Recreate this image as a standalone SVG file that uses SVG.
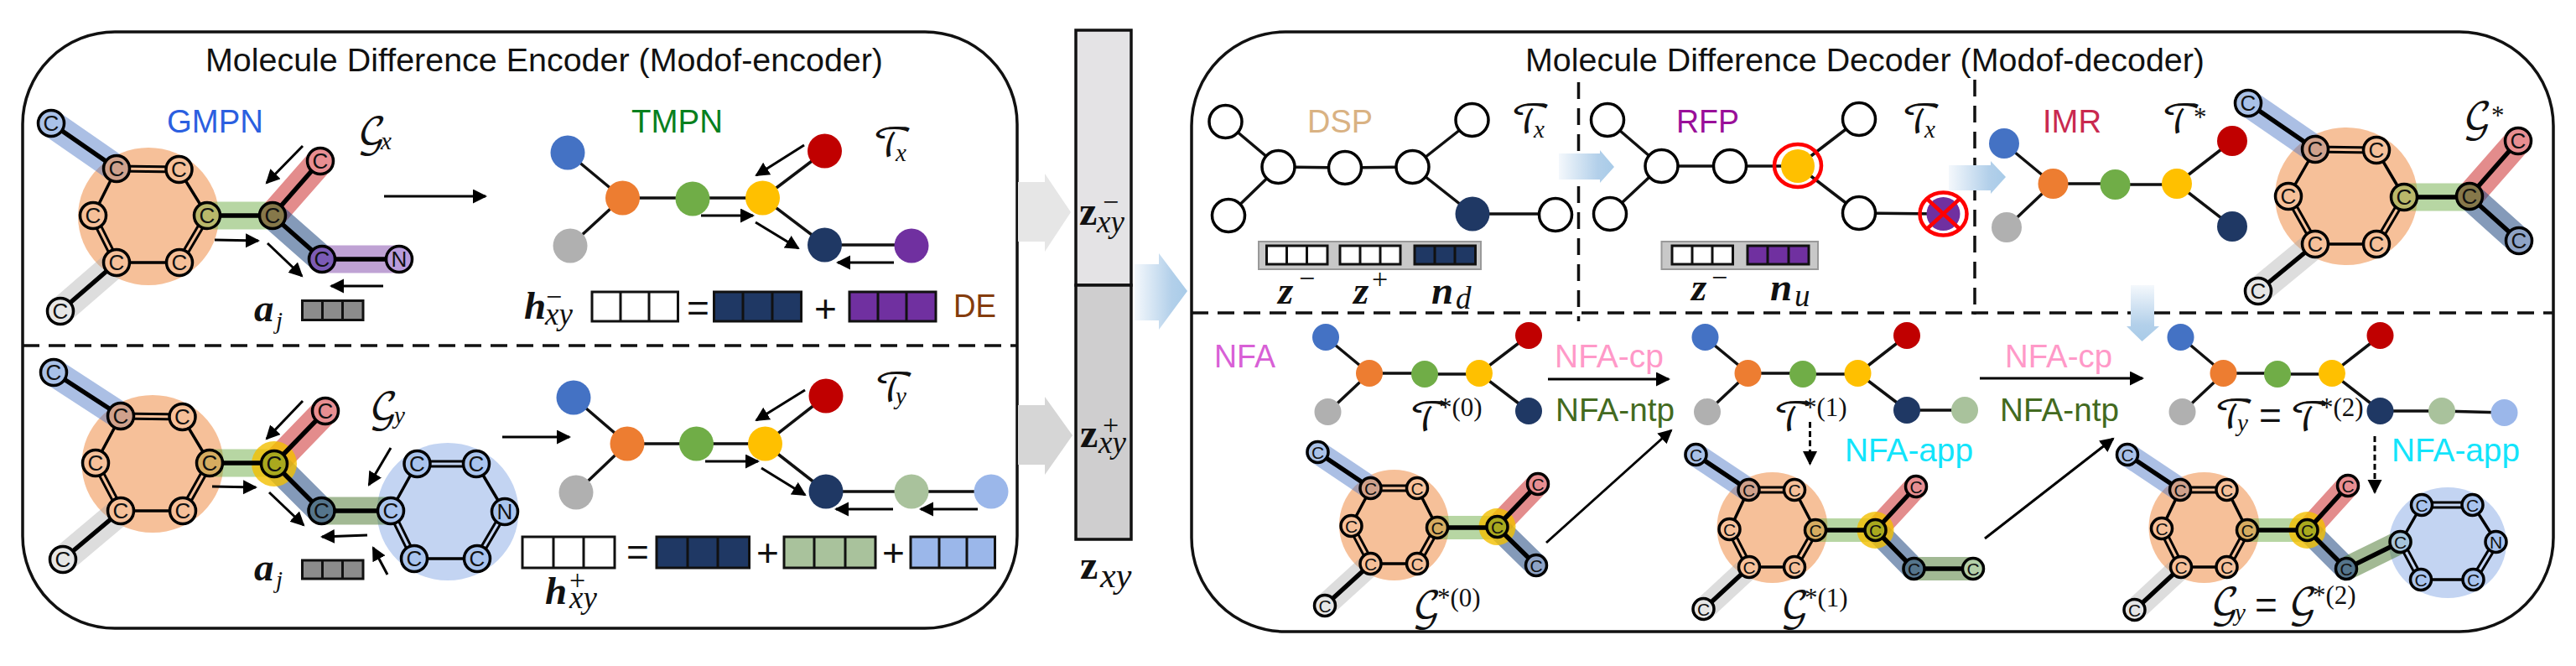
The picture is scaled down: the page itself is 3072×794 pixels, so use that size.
<svg xmlns="http://www.w3.org/2000/svg" width="3072" height="794" viewBox="0 0 3072 794">
<style>
text{font-family:"Liberation Serif","DejaVu Serif",serif;fill:#111}
.t{font-family:"Liberation Sans",Arial,sans-serif;font-size:38px}
.l{font-family:"Liberation Sans",Arial,sans-serif;font-size:39px}
.box{fill:#fff;stroke:#111;stroke-width:3.5}
.dash{fill:none;stroke:#111;stroke-width:3.5;stroke-dasharray:20 11}
.bnd{fill:none;stroke-linecap:round;stroke-width:33}
.bs{stroke-width:28}
.bblue{stroke:#4472c4;stroke-opacity:.45}.bgrey{stroke:#a6a6a6;stroke-opacity:.38}.bgreen{stroke:#70ad47;stroke-opacity:.5}.bred{stroke:#c00000;stroke-opacity:.45}.bnavy{stroke:#1f4780;stroke-opacity:.55}.bpurp{stroke:#7030a0;stroke-opacity:.45}.bdgreen{stroke:#557f3c;stroke-opacity:.55}
.eo{fill:#f6c099}.eb{fill:#c3d4f2}.halo{fill:#f2bf00;fill-opacity:.8}
.bd{stroke:#000;stroke-width:3.5;fill:none}.bt{stroke:#000;stroke-width:5.5;fill:none}
.d1{stroke:#000;stroke-width:9}.d2{stroke:#f6c099;stroke-width:3}.d3{stroke:#c3d4f2;stroke-width:3}
.e{stroke:#111;stroke-width:3.5;fill:none}
.ar{stroke:#000;stroke-width:3;fill:none;marker-end:url(#ah)}
.ad{stroke:#000;stroke-width:3;fill:none;stroke-dasharray:7 4;marker-end:url(#ah)}
.a{stroke:#000;stroke-width:3.5}
.ao{fill:#f6c099}.aob{fill:#cfa18c}.aog{fill:#b9b86a}.aoy{fill:#d6ac60}.am{fill:#86784a}.ay{fill:#a9a91e}.ab{fill:#a9c1e8}.ar2{fill:#e88e91}.ag{fill:#e6e6e6}.an{fill:#8ea3c6}.ap{fill:#7b5bb6}.apl{fill:#b99cdc}.at{fill:#55758c}.abl{fill:#a9c4ee}.abt{fill:#a6c5da}.asg{fill:#b3cfa8}
.c{font-family:"Liberation Sans",Arial,sans-serif;font-size:26px;text-anchor:middle;fill:#111}
.cs{font-family:"Liberation Sans",Arial,sans-serif;font-size:21px;text-anchor:middle;fill:#111}
.n{stroke:none}.w{fill:#fff;stroke:#000;stroke-width:3.5}
.f1{fill:#4472c4}.f2{fill:#ed7d31}.f3{fill:#b0b0b0}.f4{fill:#70ad47}.f5{fill:#ffc000}.f6{fill:#c00000}.f7{fill:#1f3864}.f8{fill:#7030a0}.f9{fill:#a9c29c}.f10{fill:#9bb7ea}
.v{stroke:#111;stroke-width:3}.vl{fill:none;stroke:#111;stroke-width:3}
.mb{font-weight:bold;font-style:italic;font-size:47px}
.mu{font-weight:bold;font-size:48px}
.mi{font-style:italic;font-size:37px}
.ms{font-size:34px}
.scr{font-family:"DejaVu Math TeX Gyre","DejaVu Serif",serif;font-size:46px}
.sup{font-size:31px}
.ssub{font-style:italic;font-size:29px}
.eq{font-family:"Liberation Sans",Arial,sans-serif;font-size:46px}
</style>
<defs>
<marker id="ah" markerUnits="userSpaceOnUse" markerWidth="19" markerHeight="19" refX="15" refY="8.5" orient="auto"><path d="M0 0L17 8.5L0 17Z" fill="#000"/></marker>
<linearGradient id="fh" x1="0" x2="1" y1="0" y2="0"><stop offset="0" stop-color="#f4f8fc"/><stop offset=".7" stop-color="#b3d0ea"/><stop offset="1" stop-color="#a8cbe8"/></linearGradient>
<linearGradient id="fv" x1="0" x2="0" y1="0" y2="1"><stop offset="0" stop-color="#f4f8fc"/><stop offset=".7" stop-color="#b3d0ea"/><stop offset="1" stop-color="#a8cbe8"/></linearGradient>
</defs>
<rect width="3072" height="794" fill="#fff"/>

<g id="panels">
<rect class="box" x="27" y="38" width="1186" height="711" rx="110" ry="110"/>
<rect class="box" x="1421" y="38" width="1624" height="715" rx="112" ry="112"/>
<rect id="zbar-top" x="1283" y="36" width="66" height="304" fill="#e4e3e5" stroke="#111" stroke-width="3.5"/>
<rect id="zbar-bottom" x="1283" y="340" width="66" height="303" fill="#cfcecf" stroke="#111" stroke-width="3.5"/>
<path class="dash" d="M27 412H1212"/>
<path class="dash" d="M1421 373H3045"/>
<path class="dash" d="M1882.500 98V383"/>
<path class="dash" d="M2355 95V375"/>
</g>

<g id="flow-arrows">
<polygon fill="#e6e6e6" points="1214,217 1246,217 1246,207 1277,253 1246,300 1246,288 1214,288"/>
<polygon fill="#d6d6d6" points="1214,483 1246,483 1246,473 1279,519 1246,566 1246,554 1214,554"/>
<polygon fill="url(#fh)" points="1353,315 1382,315 1382,302 1416,347 1382,393 1382,382 1353,382"/>
<polygon fill="url(#fh)" points="1859,183 1908,183 1908,179 1925,199 1908,218 1908,214 1859,214"/>
<polygon fill="url(#fh)" points="2324,197 2374,197 2374,192 2392,211 2374,231 2374,227 2324,227"/>
<polygon fill="url(#fv)" points="2541,340 2569,340 2569,389 2575,389 2554.500,407 2536,389 2541,389"/>
</g>

<g id="highlights">
<ellipse class="eo" cx="177" cy="258" rx="84" ry="82"/>
<g class="bnd"><path class="bblue" d="M61 147L139 201"/><path class="bgrey" d="M72 371L139 313"/><path class="bgreen" d="M247 257H325"/><path class="bred" d="M325 257L382 192"/><path class="bnavy" d="M325 257L384 309"/><path class="bpurp" d="M384 309H476"/></g>
<ellipse class="eo" cx="182" cy="553" rx="84.500" ry="82"/>
<ellipse class="eb" cx="534" cy="610" rx="84.500" ry="82"/>
<g class="bnd"><path class="bblue" d="M64 444L144 496"/><path class="bgrey" d="M75 667L144 609"/><path class="bgreen" d="M250 552H327"/><path class="bred" d="M327 553L388 490"/><path class="bnavy" d="M327 553L383 609"/><path class="bdgreen" d="M383 609H466"/></g>
<circle class="halo" cx="327" cy="553" r="27"/>
<ellipse class="eo" cx="2798" cy="234" rx="85" ry="82"/>
<g class="bnd"><path class="bblue" d="M2681 123L2761 178"/><path class="bgrey" d="M2693 347L2761 291"/><path class="bgreen" d="M2867 235H2945"/><path class="bred" d="M2945 234L3003 168"/><path class="bnavy" d="M2945 234L3004 287"/></g>
<ellipse class="eo" cx="1662.500" cy="626" rx="65.500" ry="66"/>
<g class="bnd bs"><path class="bblue" d="M1571 539L1635 582"/><path class="bgrey" d="M1580 722L1635 672"/><path class="bgreen" d="M1714 629H1785"/><path class="bred" d="M1785 628L1834 577"/><path class="bnavy" d="M1785 628L1832 674"/></g>
<circle class="halo" cx="1785.500" cy="628" r="22"/>
<ellipse class="eo" cx="2113.500" cy="629" rx="66" ry="66"/>
<g class="bnd bs"><path class="bblue" d="M2022 542L2085 584"/><path class="bgrey" d="M2032 726L2086 676"/><path class="bgreen" d="M2165 632H2237"/><path class="bred" d="M2237 632L2285 580"/><path class="bnavy" d="M2237 632L2282 678"/><path class="bdgreen" d="M2282 678H2353"/></g>
<circle class="halo" cx="2236.500" cy="632" r="22"/>
<ellipse class="eo" cx="2628.500" cy="629" rx="66" ry="66"/>
<ellipse class="eb" cx="2919" cy="647" rx="70" ry="66"/>
<g class="bnd bs"><path class="bblue" d="M2537 542L2600 584"/><path class="bgrey" d="M2546 727L2601 676"/><path class="bgreen" d="M2680 632H2752"/><path class="bred" d="M2752 632L2800 579"/><path class="bnavy" d="M2752 632L2798 678"/><path class="bdgreen" d="M2798 678L2863 646"/></g>
<circle class="halo" cx="2751.500" cy="632" r="22"/>
</g>

<g id="connectors">
<g id="gx-bonds">
<path class="bt" d="M61 147L139 201M72 371L139 313M247 257H325M325 257L382 192M325 257L384 309M384 309H476"/>
<path class="bd" d="M213 202L247 257M214 313H139M111 257L139 201"/>
<path class="d1" d="M139 201L213 202M247 257L214 313M139 313L111 257"/>
<path class="d2" d="M139 201L213 202M247 257L214 313M139 313L111 257"/>
<path class="ar" d="M361 174L318 218"/><path class="ar" d="M256 286L308 287"/><path class="ar" d="M319 290L360 329"/><path class="ar" d="M457 341H395"/>
</g>
<path class="ar" d="M458 234H579"/>
<g id="tx-edges">
<path class="e" d="M677 182L742 236M680 293L742 236M742 236H826M826 236H910M910 236L984 180M910 236L984 292M984 292H1087"/>
<path class="ar" d="M959 173L902 209"/><path class="ar" d="M836 257H898"/><path class="ar" d="M901 265L952 296"/><path class="ar" d="M1066 313H999"/>
</g>
<g id="gy-bonds">
<path class="bt" d="M64 444L144 496M75 667L144 609M250 552H327M327 553L388 490M327 553L383 609M383 609H466"/>
<path class="bd" d="M217 497L250 552M218 609H144M114 552L144 496M466 609L497 553M568 553L602 610M569 666H494"/>
<path class="d1" d="M144 496L217 497M250 552L218 609M144 609L114 552M497 553H568M602 610L569 666M494 666L466 609"/>
<path class="d2" d="M144 496L217 497M250 552L218 609M144 609L114 552"/>
<path class="d3" d="M497 553H568M602 610L569 666M494 666L466 609"/>
<path class="ar" d="M361 478L318 523"/><path class="ar" d="M253 580L305 581"/><path class="ar" d="M321 587L362 626"/><path class="ar" d="M438 638L384 640"/><path class="ar" d="M466 534L440 578"/><path class="ar" d="M462 685L445 653"/>
</g>
<path class="ar" d="M599 521H679"/>
<g id="ty-edges">
<path class="e" d="M684 474L748 529M687 587L748 529M748 529H831M831 529H912M912 529L985 472M912 529L985 586M985 586H1087M1087 586H1182"/>
<path class="ar" d="M960 465L902 501"/><path class="ar" d="M841 550H904"/><path class="ar" d="M908 558L960 590"/><path class="ar" d="M1065 607H997"/><path class="ar" d="M1166 607H1098"/>
</g>
<path id="dsp-edges" class="e" d="M1461 145L1525 199M1465 257L1525 199M1525 199L1604 200M1604 200L1685 199M1685 199L1756 143M1685 199L1756 255M1756 255H1855"/>
<path id="rfp-edges" class="e" d="M1917 143L1981 198M1920 255L1981 198M1981 198H2063M2063 198H2144M2144 198L2217 142M2144 198L2217 254M2217 254L2318 255"/>
<path id="imr-edges" class="e" d="M2390 171L2448 219M2393 271L2448 219M2448 219H2523M2523 220H2596M2596 219L2662 168M2596 219L2662 270"/>
<g id="gstar-bonds">
<path class="bt" d="M2681 123L2761 178M2693 347L2761 291M2867 235H2945M2945 234L3003 168M2945 234L3004 287"/>
<path class="bd" d="M2834 179L2867 235M2834 291H2761M2729 234L2761 178"/>
<path class="d1" d="M2761 178L2834 179M2867 235L2834 291M2761 291L2729 234"/>
<path class="d2" d="M2761 178L2834 179M2867 235L2834 291M2761 291L2729 234"/>
</g>
<path id="t0-edges" class="e" d="M1581 402L1633 445M1584 491L1633 445M1633 445H1699M1699 446H1764M1764 445L1823 400M1764 445L1823 490"/>
<path class="ar" d="M1846 452H1990"/>
<g id="g0-bonds">
<path class="bt" d="M1571 539L1635 582M1580 722L1635 672M1714 629H1785M1785 628L1834 577M1785 628L1832 674"/>
<path class="bd" d="M1690 582L1714 629M1690 672H1635M1611 627L1635 582"/>
<path class="d1" d="M1635 582H1690M1714 629L1690 672M1635 672L1611 627"/>
<path class="d2" d="M1635 582H1690M1714 629L1690 672M1635 672L1611 627"/>
</g>
<path class="ar" d="M1844 647L1993 513"/>
<path id="t1-edges" class="e" d="M2033 402L2085 445M2036 491L2085 445M2085 445H2150M2150 446H2216M2216 445L2274 400M2216 445L2274 489M2274 489H2343"/>
<path class="ad" d="M2158.500 503V553"/>
<path class="ar" d="M2361 451H2555"/>
<g id="g1-bonds">
<path class="bt" d="M2022 542L2085 584M2032 726L2086 676M2165 632H2237M2237 632L2285 580M2237 632L2282 678M2282 678H2353"/>
<path class="bd" d="M2140 584L2165 632M2140 676H2086M2063 631L2085 584"/>
<path class="d1" d="M2085 584H2140M2165 632L2140 676M2086 676L2063 631"/>
<path class="d2" d="M2085 584H2140M2165 632L2140 676M2086 676L2063 631"/>
</g>
<path class="ar" d="M2367 642L2520 523"/>
<path id="t2-edges" class="e" d="M2601 402L2652 445M2603 491L2652 445M2652 445H2716M2716 446H2781M2781 445L2839 400M2781 445L2839 490M2839 490H2912M2912 490L2986 492"/>
<path class="ad" d="M2832 520V587"/>
<g id="g2-bonds">
<path class="bt" d="M2537 542L2600 584M2546 727L2601 676M2680 632H2752M2752 632L2800 579M2752 632L2798 678M2798 678L2863 646"/>
<path class="bd" d="M2656 584L2680 632M2656 676H2601M2578 630L2600 584M2863 646L2888 602M2949 602L2977 646M2950 691H2887"/>
<path class="d1" d="M2600 584H2656M2680 632L2656 676M2601 676L2578 630M2888 602H2949M2977 646L2950 691M2887 691L2863 646"/>
<path class="d2" d="M2600 584H2656M2680 632L2656 676M2601 676L2578 630"/>
<path class="d3" d="M2888 602H2949M2977 646L2950 691M2887 691L2863 646"/>
</g>
</g>

<g id="labels">
<text class="t" x="245" y="85" textLength="808" lengthAdjust="spacingAndGlyphs">Molecule Difference Encoder (Modof-encoder)</text>
<text class="t" x="1819" y="85" textLength="810" lengthAdjust="spacingAndGlyphs">Molecule Difference Decoder (Modof-decoder)</text>
<text class="l" x="199" y="158" textLength="115" lengthAdjust="spacingAndGlyphs" style="fill:#2b5fe0">GMPN</text>
<text class="l" x="753" y="158" textLength="109" lengthAdjust="spacingAndGlyphs" style="fill:#07801e">TMPN</text>
<text class="l" x="1137" y="378" textLength="51" lengthAdjust="spacingAndGlyphs" style="fill:#843c0c">DE</text>
<text class="l" x="1559" y="158" textLength="78" lengthAdjust="spacingAndGlyphs" style="fill:#d9b283">DSP</text>
<text class="l" x="1999" y="158" textLength="75" lengthAdjust="spacingAndGlyphs" style="fill:#990f99">RFP</text>
<text class="l" x="2436" y="158" textLength="70" lengthAdjust="spacingAndGlyphs" style="fill:#c9294f">IMR</text>
<text class="l" x="1448" y="438" textLength="73" lengthAdjust="spacingAndGlyphs" style="fill:#d860d6">NFA</text>
<text class="l" x="1854" y="438" textLength="130" lengthAdjust="spacingAndGlyphs" style="fill:#ff99c8">NFA-cp</text>
<text class="l" x="1855" y="502" textLength="142" lengthAdjust="spacingAndGlyphs" style="fill:#436a20">NFA-ntp</text>
<text class="l" x="2391" y="438" textLength="128" lengthAdjust="spacingAndGlyphs" style="fill:#ff99c8">NFA-cp</text>
<text class="l" x="2385" y="502" textLength="142" lengthAdjust="spacingAndGlyphs" style="fill:#436a20">NFA-ntp</text>
<text class="l" x="2200" y="550" textLength="153" lengthAdjust="spacingAndGlyphs" style="fill:#12e4fb">NFA-app</text>
<text class="l" x="2852" y="550" textLength="153" lengthAdjust="spacingAndGlyphs" style="fill:#12e4fb">NFA-app</text>
<text><tspan class="scr" x="426" y="174">𝒢</tspan><tspan class="ssub" x="454" y="178">x</tspan></text>
<text><tspan class="scr" x="1041" y="186">𝒯</tspan><tspan class="ssub" x="1068" y="192">x</tspan></text>
<text><tspan class="scr" x="440" y="502">𝒢</tspan><tspan class="ssub" x="470" y="505">y</tspan></text>
<text><tspan class="scr" x="1043" y="478">𝒯</tspan><tspan class="ssub" x="1068" y="482">y</tspan></text>
<text><tspan class="scr" x="1802" y="158">𝒯</tspan><tspan class="ssub" x="1829" y="164">x</tspan></text>
<text><tspan class="scr" x="2268" y="158">𝒯</tspan><tspan class="ssub" x="2295" y="164">x</tspan></text>
<text><tspan class="scr" x="2578" y="158">𝒯</tspan><tspan class="sup" x="2616" y="150">*</tspan></text>
<text><tspan class="scr" x="2937" y="156">𝒢</tspan><tspan class="sup" x="2971" y="148">*</tspan></text>
<text><tspan class="scr" x="1681" y="513">𝒯</tspan><tspan class="sup" x="1716" y="496">*(0)</tspan></text>
<text><tspan class="scr" x="1684" y="739">𝒢</tspan><tspan class="sup" x="1714" y="723">*(0)</tspan></text>
<text><tspan class="scr" x="2115" y="513">𝒯</tspan><tspan class="sup" x="2151" y="496">*(1)</tspan></text>
<text><tspan class="scr" x="2123" y="739">𝒢</tspan><tspan class="sup" x="2152" y="723">*(1)</tspan></text>
<text><tspan class="scr" x="2641" y="510">𝒯</tspan><tspan class="ssub" x="2668" y="514">y</tspan><tspan class="eq" x="2694" y="511">=</tspan><tspan class="scr" x="2731" y="513">𝒯</tspan><tspan class="sup" x="2767" y="496">*(2)</tspan></text>
<text><tspan class="scr" x="2636" y="735">𝒢</tspan><tspan class="ssub" x="2665" y="740">y</tspan><tspan class="eq" x="2689" y="737">=</tspan><tspan class="scr" x="2729" y="735">𝒢</tspan><tspan class="sup" x="2758" y="720">*(2)</tspan></text>
<text><tspan class="mb" x="303" y="383">a</tspan><tspan class="ssub" x="329" y="392">j</tspan></text>
<text><tspan class="mb" x="303" y="692">a</tspan><tspan class="ssub" x="329" y="701">j</tspan></text>
<text><tspan class="mb" x="625" y="380">h</tspan><tspan class="ms" x="651" y="365">−</tspan><tspan class="mi" x="650" y="387">xy</tspan></text>
<text><tspan class="mb" x="650" y="720">h</tspan><tspan class="ms" x="679" y="703">+</tspan><tspan class="mi" x="679" y="725">xy</tspan></text>
<text><tspan class="mu" x="1287" y="268">z</tspan><tspan class="ms" x="1315" y="252">−</tspan><tspan class="mi" x="1308" y="277">xy</tspan></text>
<text><tspan class="mu" x="1288" y="533">z</tspan><tspan class="ms" x="1315" y="518">+</tspan><tspan class="mi" x="1310" y="540">xy</tspan></text>
<text><tspan class="mu" x="1288" y="690">z</tspan><tspan class="mi" x="1312" y="700" style="font-size:42px">xy</tspan></text>
<text><tspan class="mb" x="1524" y="362">z</tspan><tspan class="ms" x="1549" y="343">−</tspan></text>
<text><tspan class="mb" x="1614" y="362">z</tspan><tspan class="ms" x="1636" y="344">+</tspan></text>
<text><tspan class="mb" x="1707" y="362">n</tspan><tspan class="mi" x="1736" y="368">d</tspan></text>
<text><tspan class="mb" x="2017" y="358">z</tspan><tspan class="ms" x="2041" y="342">−</tspan></text>
<text><tspan class="mb" x="2111" y="358">n</tspan><tspan class="mi" x="2140" y="365">u</tspan></text>
<text class="eq" x="819" y="383">=</text><text class="eq" x="971" y="384">+</text>
<text class="eq" x="747" y="674">=</text><text class="eq" x="902" y="675">+</text><text class="eq" x="1052" y="675">+</text>
</g>

<g id="vectors">
<g id="aj-x"><rect x="360.500" y="358.500" width="72.500" height="23" fill="#8c8c8c" class="v"/><path class="vl" d="M384.500 358.500V381.500M408.500 358.500V381.500"/></g>
<g id="aj-y"><rect x="360.500" y="668" width="72.500" height="22" fill="#8c8c8c" class="v"/><path class="vl" d="M384.500 668V690M408.500 668V690"/></g>
<g id="h-minus"><rect x="706" y="348" width="102.500" height="35" fill="#fff" class="v"/><path class="vl" d="M740 348V383M774 348V383"/></g>
<g id="v-navy1"><rect x="851.500" y="348" width="104" height="35" fill="#1f3864" class="v"/><path class="vl" d="M886 348V383M921 348V383"/></g>
<g id="v-purple1"><rect x="1013" y="348" width="103" height="35" fill="#7030a0" class="v"/><path class="vl" d="M1047 348V383M1081 348V383"/></g>
<g id="h-plus"><rect x="623" y="640" width="110" height="37" fill="#fff" class="v"/><path class="vl" d="M660 640V677M696 640V677"/></g>
<g id="v-navy2"><rect x="783" y="640" width="110.500" height="37" fill="#1f3864" class="v"/><path class="vl" d="M820 640V677M856 640V677"/></g>
<g id="v-sage"><rect x="935" y="640" width="109" height="37" fill="#a9c29c" class="v"/><path class="vl" d="M971 640V677M1008 640V677"/></g>
<g id="v-blue"><rect x="1086" y="640" width="100.500" height="37" fill="#9bb7ea" class="v"/><path class="vl" d="M1120 640V677M1153 640V677"/></g>
<g id="dsp-panel"><rect x="1501" y="288" width="265" height="33" fill="#c8c8c8" stroke="#999" stroke-width="2"/>
<rect x="1510.500" y="293" width="72.500" height="22" fill="#fff" class="v"/><path class="vl" d="M1534.500 293V315M1558.500 293V315"/>
<rect x="1598" y="293" width="72" height="22" fill="#fff" class="v"/><path class="vl" d="M1622 293V315M1646 293V315"/>
<rect x="1687" y="293" width="72.500" height="22" fill="#1f3864" class="v"/><path class="vl" d="M1711 293V315M1735 293V315"/></g>
<g id="rfp-panel"><rect x="1981.500" y="288" width="186.500" height="33" fill="#c8c8c8" stroke="#999" stroke-width="2"/>
<rect x="1994" y="293" width="72.500" height="22" fill="#fff" class="v"/><path class="vl" d="M2018 293V315M2042 293V315"/>
<rect x="2084" y="293" width="73" height="22" fill="#7030a0" class="v"/><path class="vl" d="M2108 293V315M2133 293V315"/></g>
</g>

<g id="tree-tx">
<circle id="tx1" class="n f1" cx="677" cy="182" r="20.500"/><circle id="tx2" class="n f2" cx="742.500" cy="236" r="20.500"/><circle id="tx3" class="n f3" cx="680" cy="293" r="20.500"/><circle id="tx4" class="n f4" cx="826" cy="237" r="20.500"/><circle id="tx5" class="n f5" cx="909.500" cy="236" r="20.500"/><circle id="tx6" class="n f6" cx="983.500" cy="180" r="20.500"/><circle id="tx7" class="n f7" cx="983.500" cy="292" r="20.500"/><circle id="tx8" class="n f8" cx="1087" cy="293" r="20.500"/>
</g>
<g id="tree-ty">
<circle id="ty1" class="n f1" cx="684" cy="474" r="20.500"/><circle id="ty2" class="n f2" cx="748" cy="529" r="20.500"/><circle id="ty3" class="n f3" cx="687" cy="587" r="20.500"/><circle id="ty4" class="n f4" cx="830.500" cy="529" r="20.500"/><circle id="ty5" class="n f5" cx="912.500" cy="529" r="20.500"/><circle id="ty6" class="n f6" cx="985" cy="472" r="20.500"/><circle id="ty7" class="n f7" cx="985" cy="586" r="20.500"/><circle id="ty8" class="n f9" cx="1087" cy="586" r="20.500"/><circle id="ty9" class="n f10" cx="1182" cy="586" r="20.500"/>
</g>
<g id="tree-dsp">
<circle id="ds1" class="w" cx="1461.500" cy="145" r="19.500"/><circle id="ds2" class="w" cx="1524.500" cy="199" r="19.500"/><circle id="ds3" class="w" cx="1465" cy="257" r="19.500"/><circle id="ds4" class="w" cx="1604" cy="200" r="19.500"/><circle id="ds5" class="w" cx="1684.500" cy="199" r="19.500"/><circle id="ds6" class="w" cx="1755.500" cy="143" r="19.500"/><circle id="ds7" class="n f7" cx="1756" cy="255" r="20.500"/><circle id="ds8" class="w" cx="1855" cy="256" r="19.500"/>
</g>
<g id="tree-rfp">
<circle id="rf1" class="w" cx="1917" cy="143" r="19.500"/><circle id="rf2" class="w" cx="1981.500" cy="198" r="19.500"/><circle id="rf3" class="w" cx="1920" cy="255" r="19.500"/><circle id="rf4" class="w" cx="2063" cy="198" r="19.500"/><circle id="rf5" class="n f5" cx="2144" cy="198" r="20"/><circle id="rf6" class="w" cx="2217" cy="142" r="19.500"/><circle id="rf7" class="w" cx="2217" cy="254" r="19.500"/><circle id="rf8" class="n f8" cx="2317.500" cy="255" r="20"/>
<ellipse cx="2144" cy="197.500" rx="28" ry="25.500" fill="none" stroke="#f00" stroke-width="4.500"/>
<ellipse cx="2317.500" cy="255" rx="28" ry="25.500" fill="none" stroke="#f00" stroke-width="4.500"/>
<path d="M2299 238L2336 272M2336 238L2299 272" stroke="#f00" stroke-width="4.500" fill="none"/>
</g>
<g id="tree-imr">
<circle id="im1" class="n f1" cx="2390" cy="171" r="18"/><circle id="im2" class="n f2" cx="2448.500" cy="219" r="18"/><circle id="im3" class="n f3" cx="2393" cy="271" r="18"/><circle id="im4" class="n f4" cx="2522.500" cy="220" r="18"/><circle id="im5" class="n f5" cx="2596" cy="219" r="18"/><circle id="im6" class="n f6" cx="2662" cy="168" r="18"/><circle id="im7" class="n f7" cx="2662" cy="270" r="18"/>
</g>
<g id="tree-t0">
<circle id="t01" class="n f1" cx="1581" cy="402" r="16"/><circle id="t02" class="n f2" cx="1633" cy="445" r="16"/><circle id="t03" class="n f3" cx="1583.500" cy="491" r="16"/><circle id="t04" class="n f4" cx="1699" cy="446" r="16"/><circle id="t05" class="n f5" cx="1764" cy="445" r="16"/><circle id="t06" class="n f6" cx="1823" cy="400" r="16"/><circle id="t07" class="n f7" cx="1823" cy="490" r="16"/>
</g>
<g id="tree-t1">
<circle id="t11" class="n f1" cx="2033.500" cy="402" r="16"/><circle id="t12" class="n f2" cx="2084.500" cy="445" r="16"/><circle id="t13" class="n f3" cx="2036" cy="491" r="16"/><circle id="t14" class="n f4" cx="2150" cy="446" r="16"/><circle id="t15" class="n f5" cx="2215.500" cy="445" r="16"/><circle id="t16" class="n f6" cx="2274" cy="400" r="16"/><circle id="t17" class="n f7" cx="2274" cy="489" r="16"/><circle id="t18" class="n f9" cx="2343" cy="489" r="16"/>
</g>
<g id="tree-t2">
<circle id="t21" class="n f1" cx="2600.500" cy="402" r="16"/><circle id="t22" class="n f2" cx="2651.500" cy="445" r="16"/><circle id="t23" class="n f3" cx="2602.500" cy="491" r="16"/><circle id="t24" class="n f4" cx="2716" cy="446" r="16"/><circle id="t25" class="n f5" cx="2781" cy="445" r="16"/><circle id="t26" class="n f6" cx="2838.500" cy="400" r="16"/><circle id="t27" class="n f7" cx="2838.500" cy="490" r="16"/><circle id="t28" class="n f9" cx="2912" cy="490" r="16"/><circle id="t29" class="n f10" cx="2986.500" cy="492" r="16"/>
</g>

<g id="mol-gx">
<g id="gx1"><circle class="a ab" cx="61" cy="147" r="15.500"/><text class="c" x="61" y="156">C</text></g>
<g id="gx2"><circle class="a aob" cx="139" cy="201" r="15.500"/><text class="c" x="139" y="210">C</text></g>
<g id="gx3"><circle class="a ao" cx="213.500" cy="202" r="15.500"/><text class="c" x="213.500" y="211">C</text></g>
<g id="gx4"><circle class="a aog" cx="247" cy="257" r="15.500"/><text class="c" x="247" y="266">C</text></g>
<g id="gx5"><circle class="a ao" cx="111" cy="257" r="15.500"/><text class="c" x="111" y="266">C</text></g>
<g id="gx6"><circle class="a ao" cx="139" cy="313" r="15.500"/><text class="c" x="139" y="322">C</text></g>
<g id="gx7"><circle class="a ao" cx="214" cy="313" r="15.500"/><text class="c" x="214" y="322">C</text></g>
<g id="gx8"><circle class="a ag" cx="72" cy="371" r="15.500"/><text class="c" x="72" y="380">C</text></g>
<g id="gx9"><circle class="a am" cx="325" cy="257" r="15.500"/><text class="c" x="325" y="266">C</text></g>
<g id="gx10"><circle class="a ar2" cx="382" cy="192" r="15.500"/><text class="c" x="382" y="201">C</text></g>
<g id="gx11"><circle class="a ap" cx="384" cy="309" r="15.500"/><text class="c" x="384" y="318">C</text></g>
<g id="gx12"><circle class="a apl" cx="476" cy="309" r="15.500"/><text class="c" x="476" y="318">N</text></g>
</g>
<g id="mol-gy">
<g id="gy1"><circle class="a ab" cx="64" cy="444" r="15.500"/><text class="c" x="64" y="453">C</text></g>
<g id="gy2"><circle class="a aob" cx="144" cy="496" r="15.500"/><text class="c" x="144" y="505">C</text></g>
<g id="gy3"><circle class="a ao" cx="217.500" cy="497" r="15.500"/><text class="c" x="217.500" y="506">C</text></g>
<g id="gy4"><circle class="a aoy" cx="250" cy="552" r="15.500"/><text class="c" x="250" y="561">C</text></g>
<g id="gy5"><circle class="a ao" cx="114" cy="552" r="15.500"/><text class="c" x="114" y="561">C</text></g>
<g id="gy6"><circle class="a ao" cx="144" cy="609" r="15.500"/><text class="c" x="144" y="618">C</text></g>
<g id="gy7"><circle class="a ao" cx="218" cy="609" r="15.500"/><text class="c" x="218" y="618">C</text></g>
<g id="gy8"><circle class="a ag" cx="75" cy="667" r="15.500"/><text class="c" x="75" y="676">C</text></g>
<g id="gy9"><circle class="a ay" cx="327" cy="553" r="15.500"/><text class="c" x="327" y="562">C</text></g>
<g id="gy10"><circle class="a ar2" cx="388" cy="490" r="15.500"/><text class="c" x="388" y="499">C</text></g>
<g id="gy11"><circle class="a at" cx="383.500" cy="609" r="15.500"/><text class="c" x="383.500" y="618">C</text></g>
<g id="gy12"><circle class="a abl" cx="466" cy="609" r="15.500"/><text class="c" x="466" y="618">C</text></g>
<g id="gy13"><circle class="a abl" cx="497.500" cy="553" r="15.500"/><text class="c" x="497.500" y="562">C</text></g>
<g id="gy14"><circle class="a abl" cx="568" cy="553" r="15.500"/><text class="c" x="568" y="562">C</text></g>
<g id="gy15"><circle class="a abl" cx="602" cy="610" r="15.500"/><text class="c" x="602" y="619">N</text></g>
<g id="gy16"><circle class="a abl" cx="569" cy="666" r="15.500"/><text class="c" x="569" y="675">C</text></g>
<g id="gy17"><circle class="a abl" cx="494" cy="666" r="15.500"/><text class="c" x="494" y="675">C</text></g>
</g>
<g id="mol-gstar">
<g id="gs1"><circle class="a ab" cx="2681" cy="123" r="15.500"/><text class="c" x="2681" y="132">C</text></g>
<g id="gs2"><circle class="a aob" cx="2761" cy="178" r="15.500"/><text class="c" x="2761" y="187">C</text></g>
<g id="gs3"><circle class="a ao" cx="2834" cy="179" r="15.500"/><text class="c" x="2834" y="188">C</text></g>
<g id="gs4"><circle class="a aog" cx="2867" cy="235" r="15.500"/><text class="c" x="2867" y="244">C</text></g>
<g id="gs5"><circle class="a ao" cx="2729" cy="234" r="15.500"/><text class="c" x="2729" y="243">C</text></g>
<g id="gs6"><circle class="a ao" cx="2761" cy="291" r="15.500"/><text class="c" x="2761" y="300">C</text></g>
<g id="gs7"><circle class="a ao" cx="2834" cy="291" r="15.500"/><text class="c" x="2834" y="300">C</text></g>
<g id="gs8"><circle class="a ag" cx="2693" cy="347" r="15.500"/><text class="c" x="2693" y="356">C</text></g>
<g id="gs9"><circle class="a am" cx="2945" cy="234" r="15.500"/><text class="c" x="2945" y="243">C</text></g>
<g id="gs10"><circle class="a ar2" cx="3003" cy="168" r="15.500"/><text class="c" x="3003" y="177">C</text></g>
<g id="gs11"><circle class="a an" cx="3004" cy="287" r="15.500"/><text class="c" x="3004" y="296">C</text></g>
</g>
<g id="mol-g0">
<g id="g01"><circle class="a ab" cx="1571.500" cy="539" r="12.500"/><text class="cs" x="1571.500" y="546.500">C</text></g>
<g id="g02"><circle class="a aob" cx="1634.500" cy="582" r="12.500"/><text class="cs" x="1634.500" y="589.500">C</text></g>
<g id="g03"><circle class="a ao" cx="1690" cy="582" r="12.500"/><text class="cs" x="1690" y="589.500">C</text></g>
<g id="g04"><circle class="a aoy" cx="1714" cy="629" r="12.500"/><text class="cs" x="1714" y="636.500">C</text></g>
<g id="g05"><circle class="a ao" cx="1611.500" cy="627" r="12.500"/><text class="cs" x="1611.500" y="634.500">C</text></g>
<g id="g06"><circle class="a ao" cx="1634.500" cy="672" r="12.500"/><text class="cs" x="1634.500" y="679.500">C</text></g>
<g id="g07"><circle class="a ao" cx="1690" cy="672" r="12.500"/><text class="cs" x="1690" y="679.500">C</text></g>
<g id="g08"><circle class="a ag" cx="1580" cy="722" r="12.500"/><text class="cs" x="1580" y="729.500">C</text></g>
<g id="g09"><circle class="a ay" cx="1785.500" cy="628" r="12.500"/><text class="cs" x="1785.500" y="635.500">C</text></g>
<g id="g010"><circle class="a ar2" cx="1834" cy="577" r="12.500"/><text class="cs" x="1834" y="584.500">C</text></g>
<g id="g011"><circle class="a an" cx="1832" cy="674" r="12.500"/><text class="cs" x="1832" y="681.500">C</text></g>
</g>
<g id="mol-g1">
<g id="g11"><circle class="a ab" cx="2022.500" cy="542" r="12.500"/><text class="cs" x="2022.500" y="549.500">C</text></g>
<g id="g12"><circle class="a aob" cx="2085.500" cy="584" r="12.500"/><text class="cs" x="2085.500" y="591.500">C</text></g>
<g id="g13"><circle class="a ao" cx="2140" cy="584" r="12.500"/><text class="cs" x="2140" y="591.500">C</text></g>
<g id="g14"><circle class="a aoy" cx="2165" cy="632" r="12.500"/><text class="cs" x="2165" y="639.500">C</text></g>
<g id="g15"><circle class="a ao" cx="2062.500" cy="631" r="12.500"/><text class="cs" x="2062.500" y="638.500">C</text></g>
<g id="g16"><circle class="a ao" cx="2086" cy="676" r="12.500"/><text class="cs" x="2086" y="683.500">C</text></g>
<g id="g17"><circle class="a ao" cx="2140" cy="676" r="12.500"/><text class="cs" x="2140" y="683.500">C</text></g>
<g id="g18"><circle class="a ag" cx="2031.500" cy="726" r="12.500"/><text class="cs" x="2031.500" y="733.500">C</text></g>
<g id="g19"><circle class="a ay" cx="2236.500" cy="632" r="12.500"/><text class="cs" x="2236.500" y="639.500">C</text></g>
<g id="g110"><circle class="a ar2" cx="2285" cy="580" r="12.500"/><text class="cs" x="2285" y="587.500">C</text></g>
<g id="g111"><circle class="a at" cx="2282.500" cy="678" r="12.500"/><text class="cs" x="2282.500" y="685.500">C</text></g>
<g id="g112"><circle class="a asg" cx="2353" cy="678" r="12.500"/><text class="cs" x="2353" y="685.500">C</text></g>
</g>
<g id="mol-g2">
<g id="g21"><circle class="a ab" cx="2537" cy="542" r="12.500"/><text class="cs" x="2537" y="549.500">C</text></g>
<g id="g22"><circle class="a aob" cx="2600" cy="584" r="12.500"/><text class="cs" x="2600" y="591.500">C</text></g>
<g id="g23"><circle class="a ao" cx="2655.500" cy="584" r="12.500"/><text class="cs" x="2655.500" y="591.500">C</text></g>
<g id="g24"><circle class="a aoy" cx="2680" cy="632" r="12.500"/><text class="cs" x="2680" y="639.500">C</text></g>
<g id="g25"><circle class="a ao" cx="2578" cy="630" r="12.500"/><text class="cs" x="2578" y="637.500">C</text></g>
<g id="g26"><circle class="a ao" cx="2601" cy="676" r="12.500"/><text class="cs" x="2601" y="683.500">C</text></g>
<g id="g27"><circle class="a ao" cx="2655.500" cy="676" r="12.500"/><text class="cs" x="2655.500" y="683.500">C</text></g>
<g id="g28"><circle class="a ag" cx="2545.500" cy="727" r="12.500"/><text class="cs" x="2545.500" y="734.500">C</text></g>
<g id="g29"><circle class="a ay" cx="2751.500" cy="632" r="12.500"/><text class="cs" x="2751.500" y="639.500">C</text></g>
<g id="g210"><circle class="a ar2" cx="2800" cy="579" r="12.500"/><text class="cs" x="2800" y="586.500">C</text></g>
<g id="g211"><circle class="a at" cx="2798" cy="678" r="12.500"/><text class="cs" x="2798" y="685.500">C</text></g>
<g id="g212"><circle class="a abt" cx="2862.500" cy="646" r="12.500"/><text class="cs" x="2862.500" y="653.500">C</text></g>
<g id="g213"><circle class="a abl" cx="2888" cy="602" r="12.500"/><text class="cs" x="2888" y="609.500">C</text></g>
<g id="g214"><circle class="a abl" cx="2948.500" cy="602" r="12.500"/><text class="cs" x="2948.500" y="609.500">C</text></g>
<g id="g215"><circle class="a abl" cx="2976.500" cy="646" r="12.500"/><text class="cs" x="2976.500" y="653.500">N</text></g>
<g id="g216"><circle class="a abl" cx="2949.500" cy="691" r="12.500"/><text class="cs" x="2949.500" y="698.500">C</text></g>
<g id="g217"><circle class="a abl" cx="2887" cy="691" r="12.500"/><text class="cs" x="2887" y="698.500">C</text></g>
</g>
</svg>
